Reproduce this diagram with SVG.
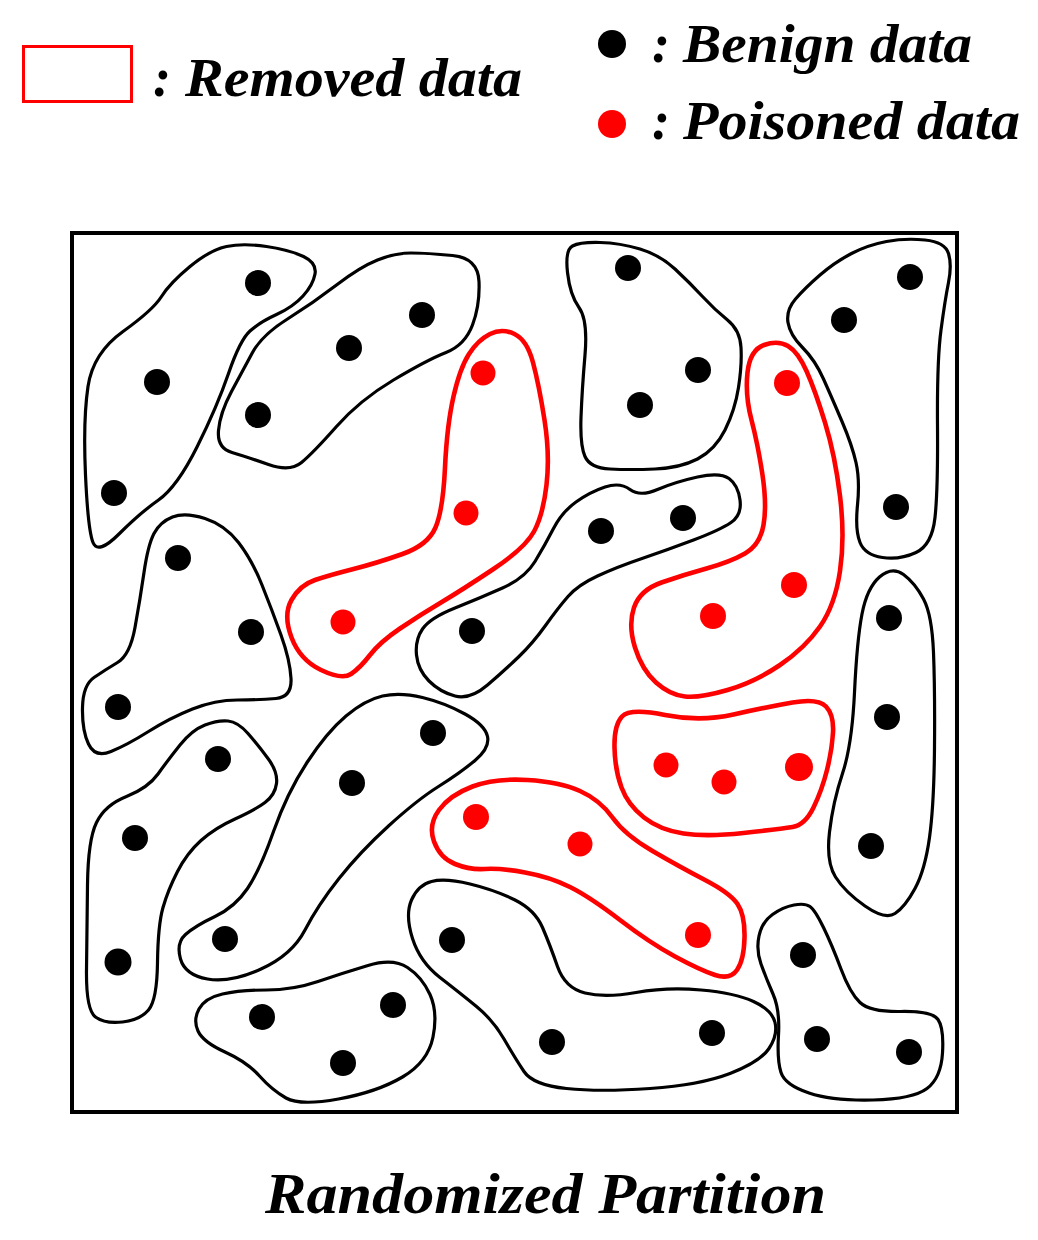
<svg xmlns="http://www.w3.org/2000/svg" width="1038" height="1240" viewBox="0 0 1038 1240">
<style>
.t{font-family:"Liberation Serif","Times New Roman",serif;font-weight:bold;font-style:italic;fill:#000}
.b{fill:none;stroke:#000;stroke-width:3.2;stroke-linejoin:round}
.r{fill:none;stroke:#f00;stroke-width:4.6;stroke-linejoin:round}
.bd{fill:#000}
.rd{fill:#f00}
</style>
<rect width="1038" height="1240" fill="#fff"/>
<g id="legend">
<rect x="23.5" y="46.5" width="108" height="55" fill="none" stroke="#f00" stroke-width="3"/>
<text class="t" x="153" y="96" font-size="54">:</text>
<text class="t" x="185" y="96" font-size="54" textLength="337" lengthAdjust="spacingAndGlyphs">Removed data</text>
<circle cx="612" cy="44" r="14" class="bd"/>
<text class="t" x="652" y="62" font-size="54">:</text>
<text class="t" x="683" y="62" font-size="54" textLength="289" lengthAdjust="spacingAndGlyphs">Benign data</text>
<circle cx="612" cy="124" r="14" class="rd"/>
<text class="t" x="652" y="139" font-size="54">:</text>
<text class="t" x="683" y="139" font-size="54" textLength="337" lengthAdjust="spacingAndGlyphs">Poisoned data</text>
</g>
<rect id="frame" x="72" y="233" width="885" height="879" fill="none" stroke="#000" stroke-width="4"/>
<g id="A">
<path class="b" d="M 226.5,246.5 Q 243,243 266.5,246.5 Q 290,250 303.5,256.5 Q 317,263 315,274 Q 313,285 303,296 Q 293,307 276.5,314.5 Q 260,322 250,331 Q 240,340 228.5,373.5 Q 217,407 197,447 Q 177,487 158.5,500 Q 140,513 119,534 Q 98,555 93,542.5 Q 88,530 85.5,475 Q 83,420 88,386.5 Q 93,353 123,331.5 Q 153,310 161.5,296.5 Q 170,283 190,266.5 Q 210,250 226.5,246.5 Z"/>
<circle cx="258" cy="283" r="13" class="bd"/><circle cx="157" cy="382" r="13" class="bd"/><circle cx="114" cy="493" r="13" class="bd"/>
</g>
<g id="B">
<path class="b" d="M 411,253 Q 427,253 452.5,255.5 Q 478,258 479,281.5 Q 480,305 472.5,325 Q 465,345 446,352.5 Q 427,360 393.5,380 Q 360,400 336.5,426.5 Q 313,453 301.5,462.5 Q 290,472 268.5,464.5 Q 247,457 232,452.5 Q 217,448 218.5,430.5 Q 220,413 231.5,391.5 Q 243,370 252.5,352.5 Q 262,335 287.5,319 Q 313,303 336.5,285 Q 360,267 377.5,260 Q 395,253 411,253 Z"/>
<circle cx="422" cy="315" r="13" class="bd"/><circle cx="349" cy="348" r="13" class="bd"/><circle cx="258" cy="415" r="13" class="bd"/>
</g>
<g id="R1">
<path class="r" d="M 490,334 Q 502,328 514.5,334 Q 527,340 533,362.5 Q 539,385 544.5,420 Q 550,455 546.5,485 Q 543,515 534,531.5 Q 525,548 493.5,569 Q 462,590 441,602.5 Q 420,615 400,628.5 Q 380,642 370,655 Q 360,668 351,674 Q 342,680 321,670 Q 300,660 291.5,637.5 Q 283,615 291.5,600 Q 300,585 315,580 Q 330,575 353.5,569 Q 377,563 402.5,554 Q 428,545 435.5,527.5 Q 443,510 445,467.5 Q 447,425 453.5,396.5 Q 460,368 469,354 Q 478,340 490,334 Z"/>
<circle cx="483" cy="373" r="12.5" class="rd"/><circle cx="466" cy="513" r="12.5" class="rd"/><circle cx="343" cy="622" r="12.5" class="rd"/>
</g>
<g id="C">
<path class="b" d="M 172.5,517 Q 185,512 205,518.5 Q 225,525 238.5,542.5 Q 252,560 262,585 Q 272,610 281,635 Q 290,660 291,678.5 Q 292,697 276,698.5 Q 260,700 237.5,700 Q 215,700 192.5,709 Q 170,718 148.5,731.5 Q 127,745 111,751.5 Q 95,758 88.5,744 Q 82,730 82.5,707.5 Q 83,685 94,677.5 Q 105,670 117.5,662.5 Q 130,655 135,627.5 Q 140,600 144,572.5 Q 148,545 154,533.5 Q 160,522 172.5,517 Z"/>
<circle cx="178" cy="558" r="13" class="bd"/><circle cx="251" cy="632" r="13" class="bd"/><circle cx="118" cy="707" r="13" class="bd"/>
</g>
<g id="D">
<path class="b" d="M 422.5,629 Q 430,618 455,608 Q 480,598 502.5,588 Q 525,578 535,561.5 Q 545,545 553.5,528.5 Q 562,512 576,502 Q 590,492 605,487 Q 620,482 630,489.5 Q 640,497 657.5,489.5 Q 675,482 697.5,477 Q 720,472 729,478.5 Q 738,485 740,500 Q 742,515 731,522.5 Q 720,530 693.5,540 Q 667,550 642,558.5 Q 617,567 597.5,576 Q 578,585 568,596.5 Q 558,608 545.5,625.5 Q 533,643 519,656.5 Q 505,670 487.5,685 Q 470,700 455,696 Q 440,692 429,681 Q 418,670 416.5,655 Q 415,640 422.5,629 Z"/>
<circle cx="601" cy="531" r="13" class="bd"/><circle cx="683" cy="518" r="13" class="bd"/><circle cx="472" cy="631" r="13" class="bd"/>
</g>
<g id="E">
<path class="b" d="M 572.5,246 Q 580,242 600,242.5 Q 620,243 640,249 Q 660,255 675,269 Q 690,283 702.5,296.5 Q 715,310 727.5,320 Q 740,330 741,347.5 Q 742,365 738.5,387.5 Q 735,410 725,430 Q 715,450 697.5,459 Q 680,468 655,469 Q 630,470 610,469 Q 590,468 585,456.5 Q 580,445 581,417.5 Q 582,390 585,355 Q 588,320 579,307.5 Q 570,295 567.5,272.5 Q 565,250 572.5,246 Z"/>
<circle cx="628" cy="268" r="13" class="bd"/><circle cx="698" cy="370" r="13" class="bd"/><circle cx="640" cy="405" r="13" class="bd"/>
</g>
<g id="R2">
<path class="r" d="M 788,346 Q 778,340 764,345 Q 750,350 747.5,372.5 Q 745,395 751.5,420 Q 758,445 762.5,475 Q 767,505 763.5,525 Q 760,545 745,553.5 Q 730,562 706.5,568.5 Q 683,575 661.5,582.5 Q 640,590 634,607.5 Q 628,625 635,647.5 Q 642,670 656,682.5 Q 670,695 685,696.5 Q 700,698 727.5,690 Q 755,682 780,665 Q 805,648 820,626.5 Q 835,605 840,571 Q 845,537 840,496 Q 835,455 825,422.5 Q 815,390 806.5,371 Q 798,352 788,346 Z"/>
<circle cx="787" cy="383" r="13" class="rd"/><circle cx="794" cy="585" r="13" class="rd"/><circle cx="713" cy="616" r="13" class="rd"/>
</g>
<g id="F">
<path class="b" d="M 886.5,241.5 Q 905,238 925,240 Q 945,242 948.5,253.5 Q 952,265 948.5,282.5 Q 945,300 941,330 Q 937,360 937.5,425 Q 938,490 935,517.5 Q 932,545 916,552.5 Q 900,560 882.5,557.5 Q 865,555 860,542.5 Q 855,530 857.5,505 Q 860,480 856,462.5 Q 852,445 842,421.5 Q 832,398 823.5,379 Q 815,360 802.5,347.5 Q 790,335 788,322.5 Q 786,310 795.5,299 Q 805,288 820,275 Q 835,262 851.5,253.5 Q 868,245 886.5,241.5 Z"/>
<circle cx="910" cy="277" r="13" class="bd"/><circle cx="844" cy="320" r="13" class="bd"/><circle cx="896" cy="507" r="13" class="bd"/>
</g>
<g id="G">
<path class="b" d="M 903.5,574.5 Q 892,566 879.5,577 Q 867,588 862,614 Q 857,640 854.5,692.5 Q 852,745 842.5,773.5 Q 833,802 829.5,832 Q 826,862 835.5,877 Q 845,892 865,906 Q 885,920 895,913.5 Q 905,907 915,888.5 Q 925,870 929.5,837.5 Q 934,805 934.5,747.5 Q 935,690 933.5,652.5 Q 932,615 923.5,599 Q 915,583 903.5,574.5 Z"/>
<circle cx="889" cy="618" r="13" class="bd"/><circle cx="887" cy="717" r="13" class="bd"/><circle cx="871" cy="846" r="13" class="bd"/>
</g>
<g id="R3">
<path class="r" d="M 622,716.5 Q 630,708 665,715 Q 700,722 733.5,714.5 Q 767,707 792.5,702.5 Q 818,698 826,706.5 Q 834,715 833,732.5 Q 832,750 827,770 Q 822,790 813.5,807.5 Q 805,825 792.5,827 Q 780,829 743.5,833 Q 707,837 683.5,833.5 Q 660,830 644,817.5 Q 628,805 621.5,787.5 Q 615,770 614.5,747.5 Q 614,725 622,716.5 Z"/>
<circle cx="666" cy="765" r="12.5" class="rd"/><circle cx="724" cy="782" r="12.5" class="rd"/><circle cx="799" cy="767" r="14" class="rd"/>
</g>
<g id="R4">
<path class="r" d="M 472.5,786.5 Q 495,778 527.5,780 Q 560,782 580,791 Q 600,800 612.5,817.5 Q 625,835 652.5,851 Q 680,867 705,880 Q 730,893 737.5,904 Q 745,915 744.5,937.5 Q 744,960 737,970 Q 730,980 715,975 Q 700,970 675,956.5 Q 650,943 620,920 Q 590,897 570,887 Q 550,877 525,872.5 Q 500,868 485,869 Q 470,870 455,864 Q 440,858 434,841.5 Q 428,825 439,810 Q 450,795 472.5,786.5 Z"/>
<circle cx="476" cy="817" r="13" class="rd"/><circle cx="580" cy="844" r="12.5" class="rd"/><circle cx="698" cy="935" r="13" class="rd"/>
</g>
<g id="H">
<path class="b" d="M 228,721 Q 218,720 205,725 Q 192,730 180,745 Q 168,760 158,774 Q 148,788 126.5,796.5 Q 105,805 96.5,822.5 Q 88,840 87.5,885 Q 87,930 86.5,970 Q 86,1010 95.5,1017 Q 105,1024 122.5,1022 Q 140,1020 148.5,1010 Q 157,1000 157.5,962.5 Q 158,925 163,907.5 Q 168,890 177.5,871.5 Q 187,853 201,840.5 Q 215,828 235,819 Q 255,810 265,802.5 Q 275,795 276.5,783.5 Q 278,772 268,758.5 Q 258,745 248,733.5 Q 238,722 228,721 Z"/>
<circle cx="218" cy="759" r="13" class="bd"/><circle cx="135" cy="838" r="13" class="bd"/><circle cx="118" cy="962" r="13.5" class="bd"/>
</g>
<g id="I">
<path class="b" d="M 382.5,696 Q 400,692 422.5,697.5 Q 445,703 465,714 Q 485,725 487.5,736.5 Q 490,748 475,760.5 Q 460,773 438.5,786.5 Q 417,800 388.5,826 Q 360,852 339,878.5 Q 318,905 305,930 Q 292,955 261,969 Q 230,983 207.5,979 Q 185,975 180.5,959 Q 176,943 185.5,934.5 Q 195,926 215,916.5 Q 235,907 247.5,888.5 Q 260,870 273.5,831.5 Q 287,793 307,762.5 Q 327,732 346,716 Q 365,700 382.5,696 Z"/>
<circle cx="433" cy="733" r="13" class="bd"/><circle cx="352" cy="783" r="13" class="bd"/><circle cx="225" cy="939" r="13" class="bd"/>
</g>
<g id="J">
<path class="b" d="M 199,1009 Q 205,998 222.5,994 Q 240,990 266.5,990 Q 293,990 318,981.5 Q 343,973 368,965.5 Q 393,958 407.5,967.5 Q 422,977 430,994.5 Q 438,1012 433,1037 Q 428,1062 402.5,1077 Q 377,1092 338.5,1099 Q 300,1106 286,1098 Q 272,1090 259.5,1076 Q 247,1062 225,1052 Q 203,1042 198,1031 Q 193,1020 199,1009 Z"/>
<circle cx="262" cy="1017" r="13" class="bd"/><circle cx="393" cy="1005" r="13" class="bd"/><circle cx="343" cy="1063" r="13" class="bd"/>
</g>
<g id="K">
<path class="b" d="M 412.5,938.5 Q 405,915 411.5,900 Q 418,885 431.5,881.5 Q 445,878 470,884 Q 495,890 515,900 Q 535,910 542.5,927.5 Q 550,945 557.5,966.5 Q 565,988 585,993 Q 605,998 636,992.5 Q 667,987 701,990 Q 735,993 753.5,1001.5 Q 772,1010 775,1022.5 Q 778,1035 769,1048.5 Q 760,1062 730,1073.5 Q 700,1085 650,1088.5 Q 600,1092 566.5,1088.5 Q 533,1085 524,1071.5 Q 515,1058 504,1039 Q 493,1020 476.5,1006.5 Q 460,993 440,977.5 Q 420,962 412.5,938.5 Z"/>
<circle cx="452" cy="940" r="13" class="bd"/><circle cx="552" cy="1042" r="13" class="bd"/><circle cx="712" cy="1033" r="13" class="bd"/>
</g>
<g id="L">
<path class="b" d="M 794,905 Q 805,903 810,906.5 Q 815,910 823.5,927.5 Q 832,945 841,969 Q 850,993 860,1002.5 Q 870,1012 901,1011.5 Q 932,1011 938,1019.5 Q 944,1028 942.5,1053 Q 941,1078 927,1088.5 Q 913,1099 873,1100 Q 833,1101 809,1093 Q 785,1085 781,1072.5 Q 777,1060 778.5,1035 Q 780,1010 773,994 Q 766,978 761,964 Q 756,950 759,936 Q 762,922 772.5,914.5 Q 783,907 794,905 Z"/>
<circle cx="803" cy="955" r="13" class="bd"/><circle cx="817" cy="1039" r="13" class="bd"/><circle cx="909" cy="1052" r="13" class="bd"/>
</g>
<g id="connectors"/>
<text id="caption" class="t" x="265" y="1213" font-size="58" textLength="561" lengthAdjust="spacingAndGlyphs">Randomized Partition</text>
</svg>
